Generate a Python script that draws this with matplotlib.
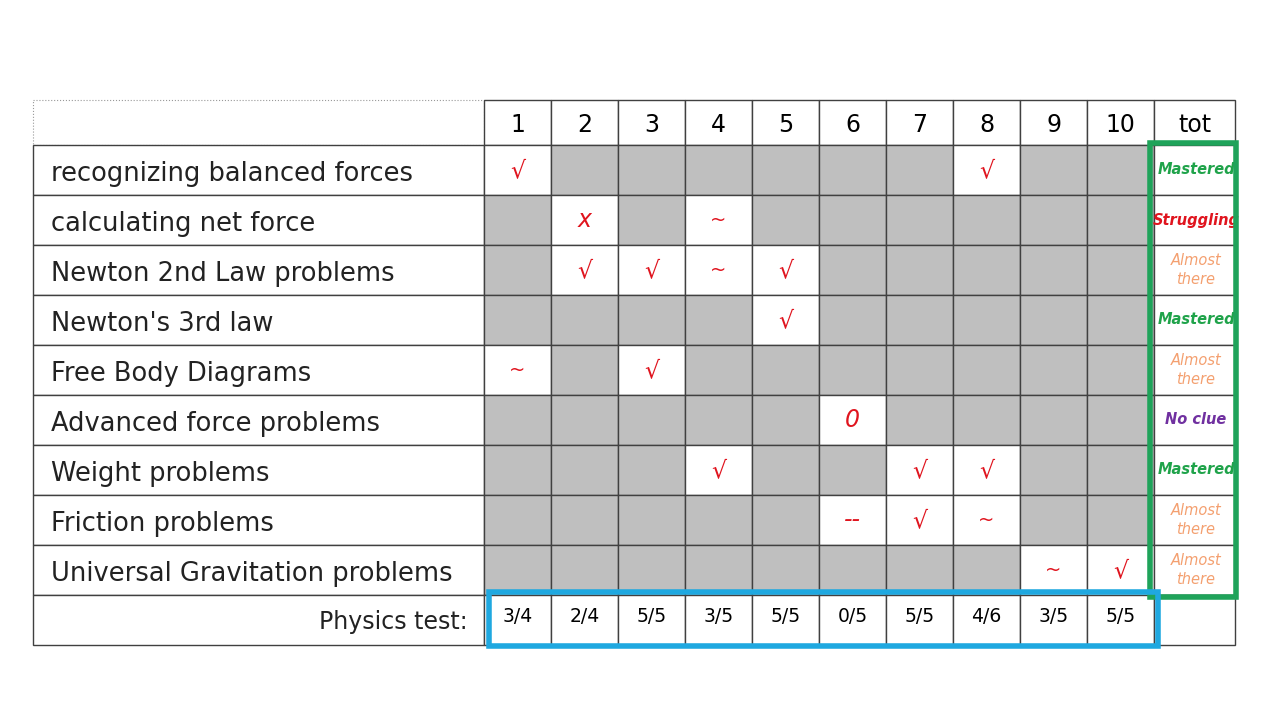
import matplotlib.pyplot as plt
from matplotlib.patches import Rectangle

topics = ['recognizing balanced forces', 'calculating net force', 'Newton 2nd Law problems',
          "Newton's 3rd law", 'Free Body Diagrams', 'Advanced force problems',
          'Weight problems', 'Friction problems', 'Universal Gravitation problems']
columns = ['1', '2', '3', '4', '5', '6', '7', '8', '9', '10']
# marks per topic: {column index: symbol}
marks = [
    {0: '√', 7: '√'},
    {1: 'x', 3: '~'},
    {1: '√', 2: '√', 3: '~', 4: '√'},
    {4: '√'},
    {0: '~', 2: '√'},
    {5: '0'},
    {3: '√', 6: '√', 7: '√'},
    {5: '--', 6: '√', 7: '~'},
    {8: '~', 9: '√'},
]
status = ['Mastered', 'Struggling', 'Almost\nthere', 'Mastered', 'Almost\nthere',
          'No clue', 'Mastered', 'Almost\nthere', 'Almost\nthere']
status_col = {'Mastered': '#1fa34a', 'Struggling': '#e0141e', 'Almost\nthere': '#f4a070',
              'No clue': '#7030a0'}
test_scores = ['3/4', '2/4', '5/5', '3/5', '5/5', '0/5', '5/5', '4/6', '3/5', '5/5']

fig = plt.figure(figsize=(12.8, 7.2), dpi=100)
ax = fig.add_axes([0, 0, 1, 1])
ax.set_xlim(0, 1280)
ax.set_ylim(720, 0)
ax.axis('off')

x0, xlab, cw, xtot, x1 = 33, 484, 67, 1154, 1235
yh, hh, rh = 100, 45, 50
gray = '#bfbfbf'
line = '#404040'
font = 'DejaVu Sans'

# header
ax.add_patch(Rectangle((x0, yh), xlab - x0, hh, fill=False, ec='#999999', lw=0.8, ls=':'))
for j, c in enumerate(columns + ['tot']):
    xa = xlab + j * cw
    w = cw if j < 10 else x1 - xtot
    ax.add_patch(Rectangle((xa, yh), w, hh, fc='white', ec=line, lw=1))
    ax.text(xa + w / 2, yh + hh / 2 + 2, c, ha='center', va='center', fontsize=17, family=font)

for i, t in enumerate(topics):
    y = yh + hh + i * rh
    ax.add_patch(Rectangle((x0, y), xlab - x0, rh, fc='white', ec=line, lw=1))
    ax.text(x0 + 18, y + rh / 2 + 4, t, ha='left', va='center', fontsize=18.5, family=font,
            color='#222222')
    for j in range(10):
        xa = xlab + j * cw
        m = marks[i].get(j)
        ax.add_patch(Rectangle((xa, y), cw, rh, fc='white' if m else gray, ec=line, lw=1))
        if m:
            ax.text(xa + cw / 2, y + rh / 2, m, ha='center', va='center', fontsize=17 if m != '~' else 14,
                    color='#e0141e', style='italic', family=font)
    ax.add_patch(Rectangle((xtot, y), x1 - xtot, rh, fc='white', ec=line, lw=1))
    s = status[i]
    ax.text(xtot + 42, y + rh / 2, s, ha='center', va='center', fontsize=10.5,
            color=status_col[s], weight='bold' if '\n' not in s else 'normal', style='italic',
            family=font, linespacing=1.3)

# physics test row
y = yh + hh + len(topics) * rh
ax.add_patch(Rectangle((x0, y), xlab - x0, rh, fc='white', ec=line, lw=1))
ax.text(xlab - 16, y + rh / 2 + 2, 'Physics test:', ha='right', va='center', fontsize=17,
        family=font, color='#222222')
for j, s in enumerate(test_scores):
    xa = xlab + j * cw
    ax.add_patch(Rectangle((xa, y), cw, rh, fc='white', ec=line, lw=1))
    ax.text(xa + cw / 2, y + rh / 2 - 3, s, ha='center', va='center', fontsize=13.5, family=font)
ax.add_patch(Rectangle((xtot, y), x1 - xtot, rh, fc='white', ec=line, lw=1))

# highlight boxes
ax.add_patch(Rectangle((1150, 143), 86, 454, fill=False, ec='#1fa35a', lw=4, zorder=5))
ax.add_patch(Rectangle((489, 592), 669, 54, fill=False, ec='#1fa8e0', lw=4, zorder=5))

fig.savefig('out.png', dpi=100)
